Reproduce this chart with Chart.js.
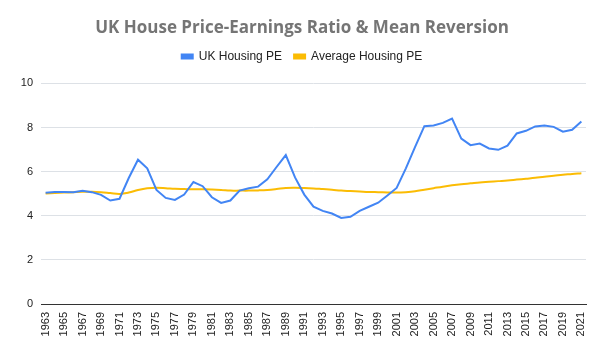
<!DOCTYPE html>
<html>
<head>
<meta charset="utf-8">
<script src="https://cdn.jsdelivr.net/npm/chart.js@4"></script>
<style>
  html, body { margin: 0; padding: 0; background: #fff; }
  #wrap { width: 604px; height: 352px; }
</style>
</head>
<body>
<div id="wrap"><canvas id="peChart"></canvas></div>
<script>
const years = [];
for (let y = 1963; y <= 2021; y++) years.push(String(y));

const ukHousingPE = [
  5.04, 5.08, 5.08, 5.07, 5.13, 5.07, 4.95, 4.69, 4.77, 5.71,
  6.54, 6.15, 5.17, 4.81, 4.72, 4.96, 5.53, 5.34, 4.84, 4.58,
  4.69, 5.14, 5.25, 5.32, 5.65, 6.21, 6.75, 5.74, 4.96, 4.41,
  4.22, 4.10, 3.90, 3.95, 4.22, 4.41, 4.59, 4.92, 5.26, 6.15,
  7.12, 8.06, 8.09, 8.21, 8.41, 7.50, 7.20, 7.27, 7.05, 6.99,
  7.18, 7.73, 7.85, 8.05, 8.09, 8.03, 7.81, 7.90, 8.27
];

const averageHousingPE = [
  5.01, 5.03, 5.05, 5.07, 5.09, 5.09, 5.07, 5.03, 4.99, 5.05,
  5.17, 5.25, 5.27, 5.25, 5.22, 5.21, 5.20, 5.20, 5.19, 5.17,
  5.14, 5.14, 5.14, 5.15, 5.17, 5.21, 5.26, 5.27, 5.26, 5.24,
  5.21, 5.18, 5.14, 5.12, 5.10, 5.08, 5.07, 5.06, 5.05, 5.07,
  5.11, 5.18, 5.25, 5.32, 5.38, 5.43, 5.47, 5.51, 5.54, 5.57,
  5.60, 5.64, 5.68, 5.72, 5.77, 5.81, 5.86, 5.89, 5.93
];

const yTicks = [0, 2, 4, 6, 8, 10];

// extra room under the legend
const legendGap = {
  id: 'legendGap',
  beforeInit(chart) {
    const fit = chart.legend.fit;
    chart.legend.fit = function () {
      fit.call(this);
      this.height += 11;
    };
  }
};

const ctx = document.getElementById('peChart').getContext('2d');

new Chart(ctx, {
  type: 'line',
  data: {
    labels: years,
    datasets: [{
      label: 'UK Housing PE',
      data: ukHousingPE,
      borderColor: '#4285f4',
      backgroundColor: '#4285f4',
      borderWidth: 2,
      pointRadius: 0,
      tension: 0
    }, {
      label: 'Average Housing PE',
      data: averageHousingPE,
      borderColor: '#fbbc04',
      backgroundColor: '#fbbc04',
      borderWidth: 2,
      pointRadius: 0,
      tension: 0.4
    }]
  },
  plugins: [legendGap],
  options: {
    responsive: true,
    maintainAspectRatio: false,
    animation: false,
    layout: { padding: { left: 0, right: 0, top: 6, bottom: 0 } },
    plugins: {
      title: {
        display: true,
        text: 'UK House Price-Earnings Ratio & Mean Reversion',
        color: '#757575',
        font: { family: 'Open Sans', size: 17, weight: 'bold' },
        padding: { top: 12, bottom: 0 }
      },
      legend: {
        position: 'top',
        labels: {
          boxWidth: 11,
          boxHeight: 4,
          color: '#222',
          font: { family: 'Liberation Sans', size: 12 },
          padding: 12
        }
      },
      tooltip: { enabled: false }
    },
    scales: {
      x: {
        offset: true,
        grid: { display: false, drawTicks: false },
        border: { color: '#333', width: 1 },
        ticks: {
          autoSkip: false,
          maxRotation: 90,
          minRotation: 90,
          color: '#222',
          font: { family: 'Liberation Sans', size: 11 },
          padding: 8,
          callback: function (val, i) {
            return i % 2 === 0 ? years[i] : '';
          }
        },
        afterFit: function (scale) { scale.height = 48; }
      },
      y: {
        min: 0,
        max: 10,
        afterBuildTicks: function (scale) {
          scale.ticks = yTicks.map(v => ({ value: v }));
        },
        grid: { color: '#dde1e6', drawTicks: false },
        border: { display: false },
        ticks: {
          color: '#222',
          font: { family: 'Liberation Sans', size: 11 },
          padding: 8
        },
        afterFit: function (scale) { scale.width = 41; }
      },
      // empty right-hand axis, only keeps a margin on the right
      yRight: {
        position: 'right',
        min: 0,
        max: 10,
        grid: { display: false, drawTicks: false },
        border: { display: false },
        ticks: { display: false },
        afterFit: function (scale) { scale.width = 18; }
      }
    }
  }
});
</script>
</body>
</html>
